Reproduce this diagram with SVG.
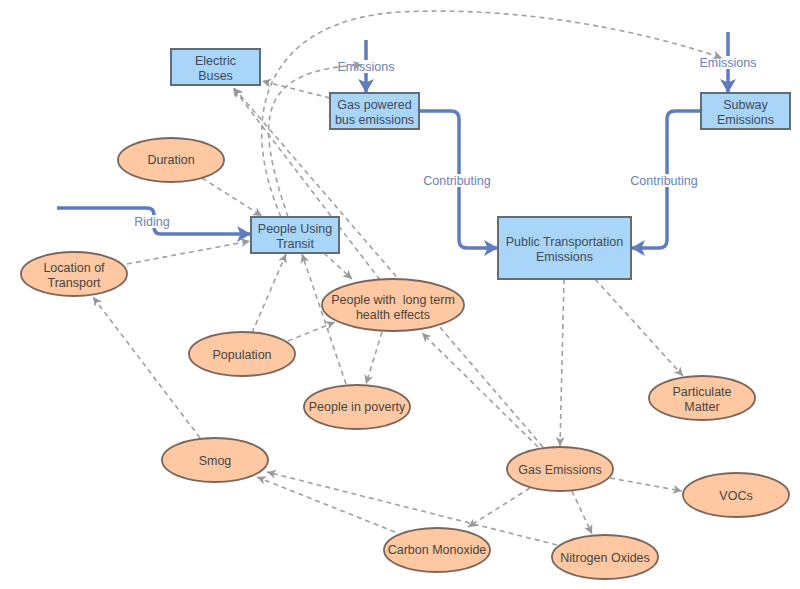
<svg xmlns="http://www.w3.org/2000/svg" width="800" height="589" viewBox="0 0 800 589">
<style>
.box{fill:#a8d5f8;stroke:#5f6d78;stroke-width:2}
.ell{fill:#fdc8a2;stroke:#7a665c;stroke-width:1.8}
.t{font-family:"Liberation Sans",Arial,sans-serif;font-size:12.5px;text-anchor:middle;fill:#4a4440}
.bt{font-family:"Liberation Sans",Arial,sans-serif;font-size:12.5px;text-anchor:middle;fill:#3e4a5a}
.lbl{font-family:"Liberation Sans",Arial,sans-serif;font-size:12.5px;text-anchor:middle;fill:#6a82b8}
.flow{fill:none;stroke:#5f7dbd;stroke-width:3.5}
.dash{fill:none;stroke:#a0a0a0;stroke-width:1.6;stroke-dasharray:5 4;marker-end:url(#ga)}
</style>
<defs>
<marker id="ga" markerUnits="userSpaceOnUse" markerWidth="10" markerHeight="10" refX="9" refY="4.5" orient="auto">
<path d="M0,0 L9,4.5 L0,9 L2.5,4.5 z" fill="#999"/>
</marker>
<marker id="ba" markerUnits="userSpaceOnUse" markerWidth="16" markerHeight="16" refX="14" refY="8" orient="auto">
<path d="M0,0 L14,8 L0,16 L3.5,8 z" fill="#5f7dbd"/>
</marker>
</defs>
<rect width="800" height="589" fill="#ffffff"/>
<g id="connectors">
<path class="flow" d="M57,208 H147 Q154,208 154,215 V227 Q154,234 161,234 H251" marker-end="url(#ba)"/>
<path class="flow" d="M366,40 V93" marker-end="url(#ba)"/>
<path class="flow" d="M728,32 V93" marker-end="url(#ba)"/>
<path class="flow" d="M419,111 H451 Q459,111 459,119 V240 Q459,248 467,248 H498" marker-end="url(#ba)"/>
<path class="flow" d="M701,111 H675 Q667,111 667,119 V240 Q667,248 659,248 H631" marker-end="url(#ba)"/>
<rect x="134" y="215" width="36" height="13" fill="#fff"/>
<text class="lbl" x="152" y="226">Riding</text>
<rect x="338" y="60" width="56" height="13" fill="#fff"/>
<text class="lbl" x="366" y="71">Emissions</text>
<rect x="700" y="56" width="56" height="13" fill="#fff"/>
<text class="lbl" x="728" y="67">Emissions</text>
<rect x="421" y="174" width="72" height="13" fill="#fff"/>
<text class="lbl" x="457" y="185">Contributing</text>
<rect x="628" y="174" width="72" height="13" fill="#fff"/>
<text class="lbl" x="664" y="185">Contributing</text>
<path class="dash" d="M202,178 L262,216"/>
<path class="dash" d="M127,264 L250,241"/>
<path class="dash" d="M252,333 L286,254"/>
<path class="dash" d="M346,384 L302,254"/>
<path class="dash" d="M324,253 L352,279"/>
<path class="dash" d="M288,341 L335,322"/>
<path class="dash" d="M382,332 L366,384"/>
<path class="dash" d="M538,447 L422,333"/>
<path class="dash" d="M543,447 L234,88"/>
<path class="dash" d="M380,280 L233,88"/>
<path class="dash" d="M330,98 L262,81"/>
<path class="dash" d="M288,217 C255,120 255,70 362,65"/>
<path class="dash" d="M281,217 C235,110 270,20 400,12 C520,6 640,30 722,58"/>
<path class="dash" d="M200,438 L93,297"/>
<path class="dash" d="M395,532 L257,477"/>
<path class="dash" d="M557,545 L267,472"/>
<path class="dash" d="M530,488 L468,527"/>
<path class="dash" d="M572,491 L592,534"/>
<path class="dash" d="M610,478 L682,491"/>
<path class="dash" d="M564,279 L560,446"/>
<path class="dash" d="M595,279 L683,376"/>
</g>
<g id="electric-buses"><rect class="box" x="171" y="49" width="89" height="36"/><text class="bt" x="215.5" y="65">Electric</text><text class="bt" x="215.5" y="80">Buses</text></g>
<g id="gas-bus"><rect class="box" x="330" y="93" width="89" height="36"/><text class="bt" x="374.5" y="109">Gas powered</text><text class="bt" x="374.5" y="124">bus emissions</text></g>
<g id="subway"><rect class="box" x="701" y="93" width="89" height="36"/><text class="bt" x="745.5" y="109">Subway</text><text class="bt" x="745.5" y="124">Emissions</text></g>
<g id="people-using-transit"><rect class="box" x="251" y="217" width="88" height="36"/><text class="bt" x="295" y="233">People Using</text><text class="bt" x="295" y="248">Transit</text></g>
<g id="pte"><rect class="box" x="498" y="217" width="133" height="62"/><text class="bt" x="564.5" y="246">Public Transportation</text><text class="bt" x="564.5" y="261">Emissions</text></g>
<g id="duration"><ellipse class="ell" cx="171" cy="160" rx="53" ry="22"/><text class="t" x="171" y="164">Duration</text></g>
<g id="location"><ellipse class="ell" cx="74" cy="274" rx="53" ry="22"/><text class="t" x="74" y="272">Location of</text><text class="t" x="74" y="287">Transport</text></g>
<g id="population"><ellipse class="ell" cx="242" cy="354" rx="53" ry="22"/><text class="t" x="242" y="359">Population</text></g>
<g id="long-term"><ellipse class="ell" cx="393" cy="305" rx="71" ry="26"/><text class="t" x="393" y="304" xml:space="preserve">People with  long term</text><text class="t" x="393" y="319">health effects</text></g>
<g id="poverty"><ellipse class="ell" cx="357" cy="407" rx="53" ry="22"/><text class="t" x="357" y="411">People in poverty</text></g>
<g id="smog"><ellipse class="ell" cx="215" cy="460" rx="53" ry="22"/><text class="t" x="215" y="465">Smog</text></g>
<g id="carbon-monoxide"><ellipse class="ell" cx="437" cy="550" rx="53" ry="22"/><text class="t" x="437" y="554">Carbon Monoxide</text></g>
<g id="gas-emissions"><ellipse class="ell" cx="560" cy="469" rx="53" ry="22"/><text class="t" x="560" y="474">Gas Emissions</text></g>
<g id="vocs"><ellipse class="ell" cx="736" cy="495" rx="53" ry="22"/><text class="t" x="736" y="500">VOCs</text></g>
<g id="nitrogen-oxides"><ellipse class="ell" cx="605" cy="557" rx="53" ry="22"/><text class="t" x="605" y="562">Nitrogen Oxides</text></g>
<g id="particulate"><ellipse class="ell" cx="702" cy="398" rx="53" ry="22"/><text class="t" x="702" y="396">Particulate</text><text class="t" x="702" y="411">Matter</text></g>
</svg>
